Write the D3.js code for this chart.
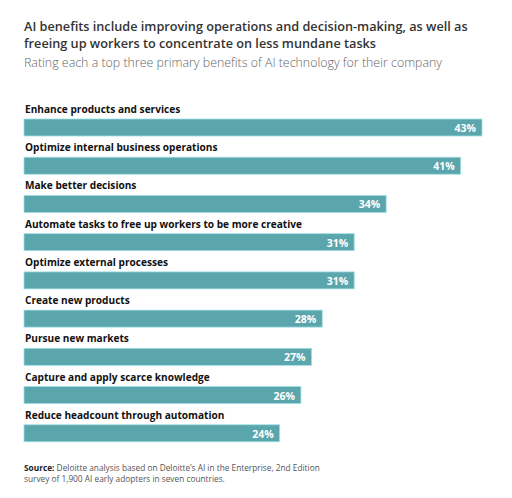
<!DOCTYPE html>
<html>
<head>
<meta charset="utf-8">
<script src="https://cdn.jsdelivr.net/npm/d3@7"></script>
<style>
  body { margin: 0; background: #fff; }
  svg { display: block; font-family: "Open Sans", sans-serif; }
</style>
</head>
<body>
<svg id="chart" width="512" height="498"></svg>
<script>
// benefits, top to bottom
var categories = [
    "Enhance products and services",
    "Optimize internal business operations",
    "Make better decisions",
    "Automate tasks to free up workers to be more creative",
    "Optimize external processes",
    "Create new products",
    "Pursue new markets",
    "Capture and apply scarce knowledge",
    "Reduce headcount through automation"
];
var values = [43, 41, 34, 31, 31, 28, 27, 26, 24];

var svg = d3.select("#chart");

var xScale = d3.scaleLinear()
    .domain([0, 43])
    .range([24, 482]);

var yScale = d3.scaleBand()
    .domain(categories)
    .range([100, 444])
    .paddingInner(0)
    .paddingOuter(0);

var barHeight = 17;
var barOffset = 19; // bar top sits below the label inside each band

// titles
svg.append("text")
    .attr("x", 24).attr("y", 31)
    .attr("font-size", 12.7).attr("font-weight", 600)
    .attr("fill", "#333")
    .text("AI benefits include improving operations and decision-making, as well as");
svg.append("text")
    .attr("x", 24).attr("y", 47.5)
    .attr("font-size", 12.7).attr("font-weight", 600)
    .attr("fill", "#333")
    .text("freeing up workers to concentrate on less mundane tasks");
svg.append("text")
    .attr("x", 24).attr("y", 67)
    .attr("font-size", 12.4).attr("font-weight", 300)
    .attr("fill", "#666")
    .text("Rating each a top three primary benefits of AI technology for their company");

var rows = svg.selectAll("g.row")
    .data(categories)
    .enter()
    .append("g")
    .attr("class", "row")
    .attr("transform", function(d) { return "translate(0," + yScale(d) + ")"; });

rows.append("text")
    .attr("x", 25)
    .attr("y", 13)
    .attr("font-size", 10.1)
    .attr("font-weight", 700)
    .attr("fill", "#111")
    .text(function(d) { return d; });

rows.append("rect")
    .attr("x", xScale(0))
    .attr("y", barOffset)
    .attr("width", function(d, i) { return xScale(values[i]) - xScale(0); })
    .attr("height", barHeight)
    .attr("fill", "#5ba5ad")
    .attr("stroke", "#9fe0e6")
    .attr("stroke-width", 0.8);

rows.append("text")
    .attr("x", function(d, i) { return xScale(values[i]) - 6; })
    .attr("y", barOffset + 13)
    .attr("text-anchor", "end")
    .attr("font-size", 10.5)
    .attr("font-weight", 700)
    .attr("fill", "#fff")
    .text(function(d, i) { return values[i] + "%"; });

// source note
var src = svg.append("text")
    .attr("x", 24).attr("y", 471)
    .attr("font-size", 8.3)
    .attr("fill", "#555");
src.append("tspan").attr("font-weight", 700).attr("fill", "#222").text("Source:");
src.append("tspan").text(" Deloitte analysis based on Deloitte\u2019s AI in the Enterprise, 2nd Edition");
svg.append("text")
    .attr("x", 24).attr("y", 482)
    .attr("font-size", 8.3)
    .attr("fill", "#555")
    .text("survey of 1,900 AI early adopters in seven countries.");
</script>
</body>
</html>
